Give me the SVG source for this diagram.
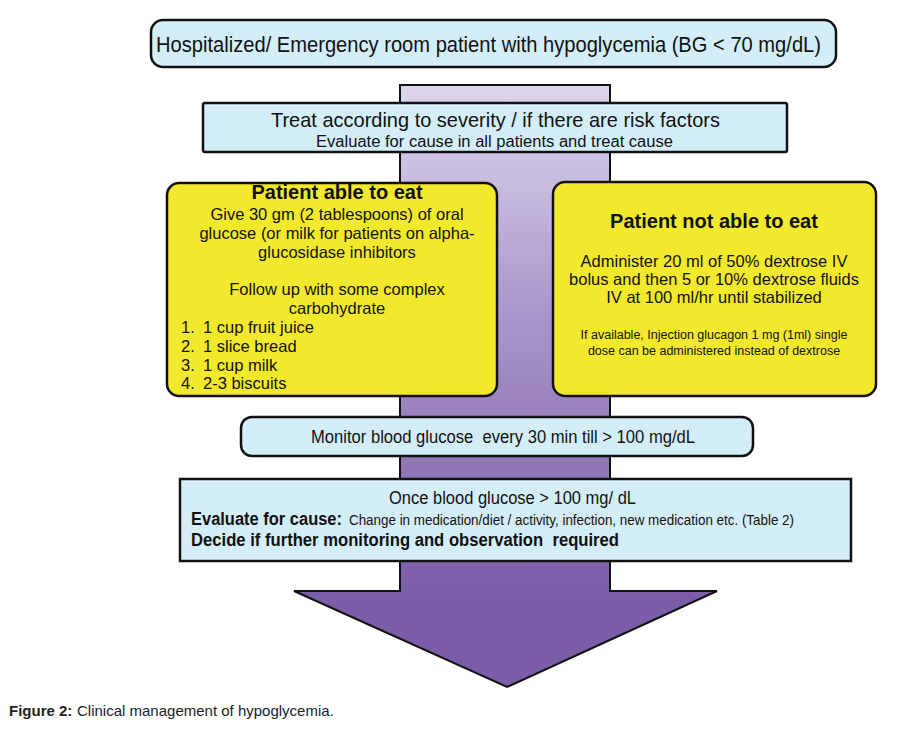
<svg xmlns="http://www.w3.org/2000/svg" width="912" height="733" viewBox="0 0 912 733">
<defs>
<linearGradient id="shaft" gradientUnits="userSpaceOnUse" x1="0" y1="85" x2="0" y2="600">
<stop offset="0" stop-color="#ddd7eb"/>
<stop offset="0.45" stop-color="#a995cb"/>
<stop offset="1" stop-color="#7a5ca7"/>
</linearGradient>
<style>
.blue{fill:#d4eef9;stroke:#111;stroke-width:2.5}
.yel{fill:#f3e92c;stroke:#111;stroke-width:2.5}
text{font-family:"Liberation Sans",Arial,sans-serif;fill:#111}
.c{text-anchor:middle}
.b{font-weight:bold}
</style>
</defs>
<rect width="912" height="733" fill="#fff"/>
<g id="connectors">
<polygon points="400,85 610,85 610,591 717,591 507,687 294,591 400,591" fill="url(#shaft)" stroke="#111" stroke-width="2" stroke-linejoin="miter"/>
</g>
<g id="n-start">
<rect class="blue" x="151" y="20" width="685" height="47" rx="12"/>
<text x="156" y="52" font-size="22" textLength="665" lengthAdjust="spacingAndGlyphs">Hospitalized/ Emergency room patient with hypoglycemia (BG &lt; 70 mg/dL)</text>
</g>
<g id="n-treat">
<rect class="blue" x="203" y="103" width="584" height="49" rx="2"/>
<text x="271" y="127" font-size="21" textLength="449" lengthAdjust="spacingAndGlyphs">Treat according to severity / if there are risk factors</text>
<text x="316" y="147" font-size="16" textLength="357" lengthAdjust="spacingAndGlyphs">Evaluate for cause in all patients and treat cause</text>
</g>
<g id="n-eat">
<rect class="yel" x="167" y="183" width="330" height="213" rx="12"/>
<text class="c b" x="337" y="199" font-size="20">Patient able to eat</text>
<text class="c" x="337" y="220" font-size="16.5">Give 30 gm (2 tablespoons) of oral</text>
<text class="c" x="337" y="239" font-size="16.5">glucose (or milk for patients on alpha-</text>
<text class="c" x="337" y="258" font-size="16.5">glucosidase inhibitors</text>
<text class="c" x="337" y="295" font-size="16.5">Follow up with some complex</text>
<text class="c" x="337" y="314" font-size="16.5">carbohydrate</text>
<text x="181" y="333" font-size="16.5">1.</text><text x="203" y="333" font-size="16.5">1 cup fruit juice</text>
<text x="181" y="352" font-size="16.5">2.</text><text x="203" y="352" font-size="16.5">1 slice bread</text>
<text x="181" y="371" font-size="16.5">3.</text><text x="203" y="371" font-size="16.5">1 cup milk</text>
<text x="181" y="389" font-size="16.5">4.</text><text x="203" y="389" font-size="16.5">2-3 biscuits</text>
</g>
<g id="n-noeat">
<rect class="yel" x="553" y="182" width="323" height="214" rx="12"/>
<text class="c b" x="714" y="228" font-size="20">Patient not able to eat</text>
<text class="c" x="714" y="267" font-size="16.5">Administer 20 ml of 50% dextrose IV</text>
<text class="c" x="714" y="285" font-size="16.5">bolus and then 5 or 10% dextrose fluids</text>
<text class="c" x="714" y="303" font-size="16.5">IV at 100 ml/hr until stabilized</text>
<text class="c" x="714" y="339" font-size="12.5">If available, Injection glucagon 1 mg (1ml) single</text>
<text class="c" x="714" y="355" font-size="12.5">dose can be administered instead of dextrose</text>
</g>
<g id="n-monitor">
<rect class="blue" x="241" y="417" width="512" height="39" rx="11"/>
<text x="311" y="443" font-size="18" textLength="384" lengthAdjust="spacingAndGlyphs" xml:space="preserve">Monitor blood glucose  every 30 min till &gt; 100 mg/dL</text>
</g>
<g id="n-final">
<rect class="blue" x="180" y="479" width="671" height="82"/>
<text x="389" y="504" font-size="18" textLength="247" lengthAdjust="spacingAndGlyphs">Once blood glucose &gt; 100 mg/ dL</text>
<text class="b" x="191" y="525" font-size="17.5" textLength="151" lengthAdjust="spacingAndGlyphs">Evaluate for cause:</text>
<text x="349" y="525" font-size="14" textLength="445" lengthAdjust="spacingAndGlyphs">Change in medication/diet / activity, infection, new medication etc. (Table 2)</text>
<text class="b" x="191" y="546" font-size="17.5" textLength="428" lengthAdjust="spacingAndGlyphs" xml:space="preserve">Decide if further monitoring and observation  required</text>
</g>
<g id="caption">
<text class="b" x="9" y="716" font-size="15" style="fill:#222">Figure 2:</text>
<text x="77" y="716" font-size="15" style="fill:#222">Clinical management of hypoglycemia.</text>
</g>
</svg>
